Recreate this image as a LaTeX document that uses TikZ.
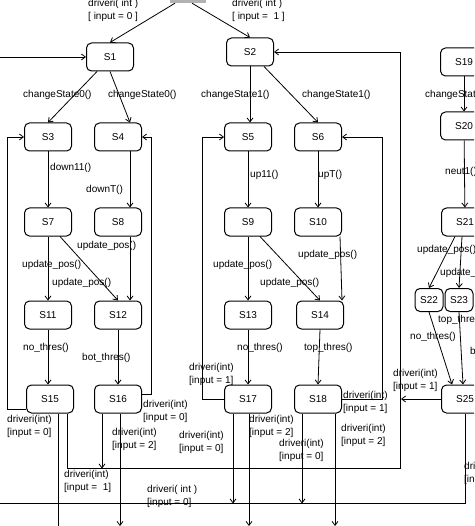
\documentclass[tikz,border=0pt]{standalone}
\usepackage{fontspec}
\setmainfont{Liberation Sans}
\usetikzlibrary{arrows.meta}
\begin{document}
\begin{tikzpicture}[
    x=1pt, y=-1pt,
    >={Straight Barb[length=4pt,width=6pt]},
    every node/.style={font=\fontsize{10}{13}\selectfont},
    st/.style={draw, line width=1pt, rounded corners=5pt, minimum width=47pt, minimum height=28pt, inner sep=0pt},
    stsmall/.style={st, minimum width=28pt, minimum height=23pt},
    lbl/.style={anchor=west, inner sep=0pt, align=left},
    tr/.style={draw, ->, line width=0.8pt}
]
\useasboundingbox (0,0) rectangle (474,526);
\fill[white] (0,0) rectangle (474,526);
\clip (0,0) rectangle (474,526);

\node[fill=black!30, minimum width=36pt, minimum height=14pt, inner sep=0pt] (S0) at (188,-4) {};
\node[st] (S1) at (110,57) {S1};
\node[st] (S2) at (250,52) {S2};
\node[st] (S19) at (464,62) {S19};
\node[st] (S3) at (48,137) {S3};
\node[st] (S4) at (118,137) {S4};
\node[st] (S5) at (248,137) {S5};
\node[st] (S6) at (318,137) {S6};
\node[st] (S20) at (464,126) {S20};
\node[st] (S7) at (48,222) {S7};
\node[st] (S8) at (118,222) {S8};
\node[st] (S9) at (248,222) {S9};
\node[st] (S10) at (318,222) {S10};
\node[st] (S21) at (465,222) {S21};
\node[st] (S11) at (48,315) {S11};
\node[st] (S12) at (118,315) {S12};
\node[st] (S13) at (248,315) {S13};
\node[st] (S14) at (320,315) {S14};
\node[stsmall] (S22) at (429,300) {S22};
\node[stsmall] (S23) at (459,300) {S23};
\node[st] (S15) at (50,399) {S15};
\node[st] (S16) at (118,399) {S16};
\node[st] (S17) at (248,399) {S17};
\node[st] (S18) at (318,399) {S18};
\node[st] (S25) at (465,399) {S25};

\coordinate (inL) at (0,57);
\coordinate (outL) at (-20,503);
\coordinate (bus) at (401,399);
\coordinate (end15) at (58,545);
\coordinate (end16) at (120,526);
\coordinate (end17) at (249,526);
\coordinate (end18) at (335,526);

\path[tr] ([xshift=-13pt]S0.south) -- (S1.north);
\path[tr] ([xshift=4pt]S0.south) -- (S2.north);
\path[tr] (inL) -- (S1.west);
\path[tr] ([xshift=-13pt]S1.south) -- (S3.north);
\path[tr] (S1.south) -- ([xshift=12pt]S4.north);
\path[tr] (S2.south) -- (S2.south |- S5.north);
\path[tr] ([xshift=14pt]S2.south) -- (S6.north);
\path[tr] (S19) -- (S20);
\path[tr] (S3) -- (S7);
\path[tr] ([xshift=12pt]S4.south) -- ([xshift=12pt]S8.north);
\path[tr] (S5) -- (S9);
\path[tr] (S6) -- (S10);
\path[tr] (S20) -- (S21);
\path[tr] (S7) -- (S11);
\path[tr] ([xshift=12pt]S7.south) -- (S12.north);
\path[tr] ([xshift=12pt]S8.south) -- ([xshift=12pt]S12.north);
\path[tr] (S9) -- (S13);
\path[tr] ([xshift=12pt]S9.south) -- (S14.north);
\path[tr] ([xshift=22pt]S10.south) -- ([xshift=22pt]S14.north);
\path[tr] ([xshift=-10pt]S21.south) -- (S22.north);
\path[tr] ([xshift=-3pt]S21.south) -- (S23.north);
\path[tr] (S11.south) -- (S11.south |- S15.north);
\path[tr] (S12) -- (S16);
\path[tr] (S13) -- (S17);
\path[tr] (S14.south) -- (S18.north);
\path[tr] (S22.south) -- ([xshift=-13pt]S25.north);
\path[tr] (S23.south) -- ([xshift=-2pt]S25.north);
\path[tr] ([yshift=-10pt]S15.west) -- ++(-19,0) |- (S3.west);
\path[tr] ([yshift=5pt]S16.east) -- ++(9,0) |- (S4.east);
\path[tr] (S17.west) -- ++(-22,0) |- (S5.west);
\path[tr] (S18.east) -- ++(40,0) |- (S6.east);
\path[tr] ([xshift=17pt]S15.south) |- (400,468) |- (S2.east);
\path[tr] ([xshift=8pt]S15.south) -- (end15);
\path[tr] ([xshift=-16pt]S16.south) -- ++(0,55);
\path[tr] ([xshift=2pt]S16.south) -- (end16);
\path[tr] ([xshift=-15pt]S17.south) -- ++(0,90);
\path[tr] ([xshift=1pt]S17.south) -- (end17);
\path[tr] ([xshift=-16pt]S18.south) -- ++(0,90);
\path[tr] ([xshift=17pt]S18.south) -- (end18);
\path[tr] (S25.west) -- (bus);
\path[tr] (S25.south) |- (outL);

\node[lbl] (t1) at (88,10.5) {driveri( int )\\{[} input = 0 ]};
\node[lbl] (t2) at (232,10.5) {driveri( int )\\{[} input = \ 1 ]};
\node[lbl] (c1) at (23,95) {changeState0()};
\node[lbl] (c2) at (108,95) {changeState0()};
\node[lbl] (c3) at (201,95) {changeState1()};
\node[lbl] (c4) at (302,95) {changeState1()};
\node[lbl] (c5) at (425,95) {changeState2()};
\node[lbl] (d1) at (50,168) {down11()};
\node[lbl] (d2) at (86,190) {downT()};
\node[lbl] (u1) at (250,175) {up11()};
\node[lbl] (u2) at (318,175) {upT()};
\node[lbl] (n1) at (445,172) {neut1()};
\node[lbl] (p1) at (22,265) {update\_pos()};
\node[lbl] (p2) at (52,283) {update\_pos()};
\node[lbl] (p3) at (77,246) {update\_pos()};
\node[lbl] (p4) at (213,265) {update\_pos()};
\node[lbl] (p5) at (260,283) {update\_pos()};
\node[lbl] (p6) at (298,255) {update\_pos()};
\node[lbl] (p7) at (417,250) {update\_pos()};
\node[lbl] (p8) at (440,273) {update\_pos()};
\node[lbl] (h1) at (23,348) {no\_thres()};
\node[lbl] (h2) at (82,358) {bot\_thres()};
\node[lbl] (h3) at (237,348) {no\_thres()};
\node[lbl] (h4) at (304,348) {top\_thres()};
\node[lbl] (h5) at (438,320) {top\_thres()};
\node[lbl] (h6) at (410,337) {no\_thres()};
\node[lbl] (h7) at (470,352) {bot\_thres()};
\node[lbl] (e1) at (7,426) {driveri(int)\\{[}input = 0]};
\node[lbl] (e2) at (143,411) {driveri(int)\\{[}input = 0]};
\node[lbl] (e3) at (112,439) {driveri(int)\\{[}input = 2]};
\node[lbl] (e4) at (179,442) {driveri(int)\\{[}input = 0]};
\node[lbl] (e5) at (64,481) {driveri(int)\\{[}input = \ 1]};
\node[lbl] (e6) at (147,496) {driveri( int )\\{[}input = 0]};
\node[lbl] (e7) at (189,374) {driveri(int)\\{[}input = 1]};
\node[lbl] (e8) at (249,426) {driveri(int)\\{[}input = 2]};
\node[lbl] (e9) at (279,450) {driveri(int)\\{[}input = 0]};
\node[lbl] (e10) at (343,402) {driveri(int)\\{[}input = 1]};
\node[lbl] (e11) at (341,435) {driveri(int)\\{[}input = 2]};
\node[lbl] (e12) at (393,380) {driveri(int)\\{[}input = 1]};
\node[lbl] (e13) at (464,473) {driveri(int)\\{[}input = 0]};
\end{tikzpicture}
\end{document}
